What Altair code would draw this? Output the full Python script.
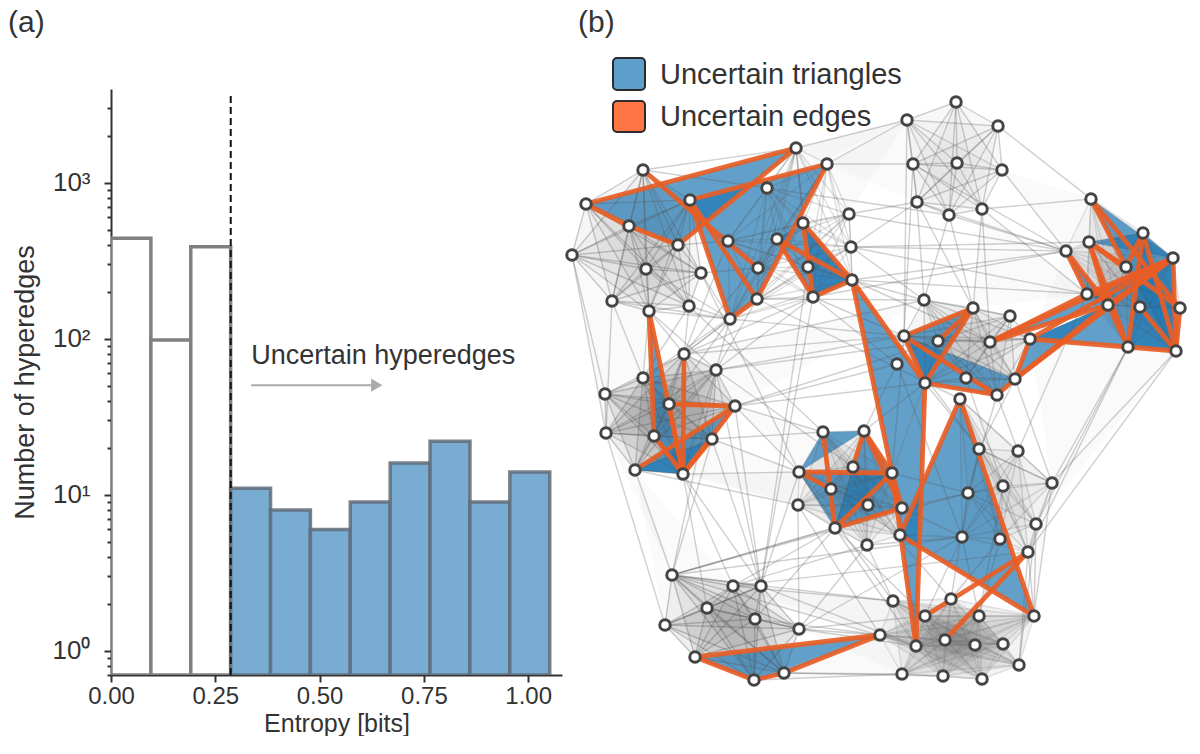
import itertools
import altair as alt
import pandas as pd

FONT = "Liberation Sans"
INK = "#333333"

# ---------- panel (a) ----------
bin_width = 0.0956
counts = [440, 98, 388, 11, 8, 6, 9, 16, 22, 9, 14]
n_certain = 3
threshold = 0.287
tick_major = [1, 10, 100, 1000]
tick_minor = [0.7, 0.8, 0.9, 2, 3, 4, 5, 6, 7, 8, 9, 20, 30, 40, 50, 60, 70, 80, 90,
              200, 300, 400, 500, 600, 700, 800, 900, 2000, 3000]
y_low, y_high = 0.70, 3981
x_high = 1.081

bars = pd.DataFrame({
    "x0": [i * bin_width for i in range(len(counts))],
    "x1": [(i + 1) * bin_width for i in range(len(counts))],
    "n": counts,
    "base": [y_low] * len(counts),
})
ws, hs = 451, 586
xa = alt.X("x0:Q", scale=alt.Scale(domain=[0, x_high], nice=False), axis=alt.Axis(
    values=[0, .25, .5, .75, 1], format=".2f", title="Entropy [bits]", grid=False,
    domainColor=INK, domainWidth=2, tickColor=INK, tickWidth=2, tickSize=7,
    labelFont=FONT, labelFontSize=24, labelColor=INK, labelPadding=2, titleFont=FONT,
    titleFontSize=25, titleColor=INK, titleFontWeight="normal", titlePadding=3, labelFlush=False))
ya = alt.Y("n:Q", scale=alt.Scale(type="log", domain=[y_low, y_high], nice=False), axis=alt.Axis(
    values=tick_major + tick_minor, title="Number of hyperedges", grid=False,
    labelExpr="datum.value==1?'10⁰':datum.value==10?'10¹':datum.value==100?'10²':datum.value==1000?'10³':''",
    domainColor=INK, domainWidth=2, tickColor=INK, tickWidth=2,
    tickSize={"condition": {"test": "datum.value==1||datum.value==10||datum.value==100||datum.value==1000", "value": 7}, "value": 4},
    labelFont=FONT, labelFontSize=26, labelColor=INK, labelPadding=14, titleFont=FONT,
    titleFontSize=27, titleColor=INK, titleFontWeight="normal", titlePadding=13))

base_a = alt.Chart(bars).encode(x=xa, x2="x1:Q", y=ya, y2="base:Q")
bars_w = base_a.transform_filter(f"datum.x0 < {n_certain * bin_width - 0.01}").mark_rect(
    fill="#ffffff", stroke="#808080", strokeWidth=3.5, clip=True)
bars_b = base_a.transform_filter(f"datum.x0 >= {n_certain * bin_width - 0.01}").mark_rect(
    fill="#79acd3", stroke="#5f6c78", strokeOpacity=0.85, strokeWidth=3.5, clip=True)

dash = alt.Chart(pd.DataFrame({"x": [threshold], "a": [y_low], "b": [3600]})).mark_rule(
    color="#111111", strokeDash=[7, 4], strokeWidth=2).encode(x=alt.X("x:Q"), y=alt.Y("a:Q"), y2="b:Q")
ann_df = pd.DataFrame({"x": [0.336], "x2": [0.625], "y": [50.4], "ty": [78], "t": ["Uncertain hyperedges"], "tip": [0.637]})
ann_text = alt.Chart(ann_df).mark_text(font=FONT, fontSize=27, color=INK, align="left", baseline="middle").encode(
    x=alt.X("x:Q"), y=alt.Y("ty:Q"), text="t:N")
ann_line = alt.Chart(ann_df).mark_rule(color="#aaaaaa", strokeWidth=2).encode(x=alt.X("x:Q"), x2="x2:Q", y=alt.Y("y:Q"))
ann_head = alt.Chart(ann_df).mark_point(shape="triangle-right", filled=True, color="#aaaaaa", size=170, opacity=1).encode(
    x=alt.X("tip:Q"), y=alt.Y("y:Q"))
label_a = alt.Chart(pd.DataFrame({"t": ["(a)"]})).mark_text(font=FONT, fontSize=30, color=INK, align="left",
    baseline="top").encode(x=alt.value(-103), y=alt.value(-81), text="t:N")

panel_a = alt.layer(bars_w, bars_b, dash, ann_line, ann_head, ann_text, label_a).properties(width=ws, height=hs)

# ---------- panel (b) ----------
node_x = [643, 586, 629, 572, 646, 612, 649, 689, 701, 678, 690,
          796, 827, 767, 849, 803, 777, 851, 728, 758, 808, 852, 757, 813, 730,
          956, 907, 998, 913, 957, 1002, 917, 949, 982,
          1091, 1089, 1143, 1173, 1066, 1126, 1087, 1108, 1140, 1180, 1128, 1176,
          924, 973, 1010, 904, 938, 990, 1030, 966, 1015, 925, 997, 897,
          684, 716, 643, 605, 669, 735, 606, 654, 712, 635, 683,
          823, 864, 853, 799, 892, 831, 868, 798, 835, 867, 902, 900,
          960, 979, 1018, 1052, 1003, 968, 1036, 962, 1000, 1028,
          672, 733, 761, 707, 755, 665, 799, 695, 784, 754,
          893, 951, 925, 979, 1034, 945, 916, 975, 1003, 1019, 902, 943, 982, 880]
node_y = [170, 204, 226, 255, 269, 301, 311, 306, 273, 245, 200,
          148, 164, 188, 214, 223, 239, 247, 241, 268, 267, 280, 299, 297, 319,
          102, 120, 126, 164, 163, 170, 202, 215, 209,
          199, 242, 233, 258, 251, 267, 294, 305, 307, 308, 347, 351,
          300, 308, 316, 336, 341, 342, 339, 378, 379, 383, 395, 364,
          354, 370, 378, 394, 404, 406, 433, 436, 439, 470, 474,
          432, 431, 467, 472, 473, 489, 505, 505, 528, 545, 508, 535,
          399, 449, 451, 483, 486, 493, 524, 537, 539, 552,
          575, 586, 586, 608, 619, 625, 629, 657, 673, 680,
          601, 599, 616, 616, 616, 640, 646, 645, 644, 665, 674, 676, 679, 635]

# members, fill opacity of the triangles, opacity of the links
clusters = [
    (list(range(0, 11)), 0.008, 0.3), (list(range(11, 25)), 0.0012, 0.2), (list(range(25, 34)), 0.007, 0.27),
    (list(range(34, 46)), 0.004, 0.18), ([46, 47, 48, 49, 50, 51, 52, 53, 54, 55, 56], 0.006, 0.25),
    (list(range(58, 69)), 0.012, 0.3), (list(range(69, 81)), 0.003, 0.22), (list(range(81, 91)), 0.006, 0.2),
    (list(range(91, 101)), 0.012, 0.32), (list(range(101, 115)), 0.0022, 0.19),
]
cross_edges = [
    (3, 61), (5, 64), (3, 64), (67, 91), (64, 96), (59, 91), (66, 91), (93, 20), (93, 23), (63, 72), (68, 72),
    (67, 76), (66, 69), (66, 72), (63, 69), (59, 71), (59, 49), (58, 49), (63, 50), (63, 57), (59, 50), (58, 46),
    (63, 55), (58, 16), (58, 18), (58, 22), (60, 22), (59, 23), (58, 23), (7, 69), (8, 72), (93, 72), (97, 76),
    (91, 77), (92, 78), (92, 77), (97, 78), (95, 77), (91, 79), (97, 114), (97, 107), (99, 111), (100, 111),
    (99, 112), (97, 103), (91, 101), (92, 101), (91, 107), (93, 107), (95, 114), (91, 88), (92, 90), (97, 88),
    (91, 86), (78, 101), (77, 103), (77, 107), (75, 102), (72, 101), (76, 114), (55, 82), (56, 83), (53, 85),
    (54, 84), (56, 86), (54, 82), (57, 88), (44, 84), (45, 90), (44, 87), (45, 84), (40, 83), (44, 90), (31, 46),
    (32, 46), (33, 47), (32, 47), (33, 51), (31, 47), (26, 49), (28, 49), (26, 11), (26, 12), (31, 14), (31, 17),
    (32, 13), (28, 12), (27, 34), (30, 38), (33, 34), (32, 38), (33, 40), (31, 38), (28, 38), (21, 38), (17, 35),
    (17, 38), (14, 38), (17, 40), (21, 40), (23, 38), (21, 46), (23, 49), (24, 49), (22, 46), (21, 51), (17, 46),
    (23, 57), (0, 13), (4, 24), (7, 24), (5, 24), (8, 19), (9, 18), (8, 24), (6, 24), (0, 11), (6, 58), (6, 59),
    (7, 58), (7, 60), (5, 60), (6, 60), (24, 59), (24, 58), (22, 59), (24, 62), (22, 81), (21, 82), (86, 102),
    (88, 103), (89, 104), (88, 104), (90, 105), (87, 105), (85, 104), (89, 102), (84, 105), (87, 110), (90, 110),
    (82, 84), (73, 86), (79, 86), (80, 88), (78, 88), (79, 88), (68, 92), (68, 94), (68, 93), (63, 93), (66, 93),
    (59, 93), (55, 70), (55, 73), (49, 73), (57, 70),
]
light_tris = [
    (26, 11, 12), (12, 26, 31), (13, 26, 11), (26, 12, 14), (3, 5, 64), (5, 6, 60), (61, 5, 60), (64, 67, 91),
    (67, 91, 96), (63, 69, 72), (66, 72, 76), (68, 72, 76), (68, 76, 66), (91, 101, 107), (92, 101, 114),
    (97, 114, 111), (99, 111, 114), (100, 111, 99), (88, 90, 102), (27, 34, 37), (30, 34, 38), (33, 40, 47),
    (38, 40, 52), (44, 45, 84), (45, 84, 87), (44, 52, 84), (60, 66, 68), (58, 63, 46), (91, 92, 67), (90, 84, 105),
]
blue_tris = [
    (1, 11, 9), (10, 12, 22), (10, 24, 22), (15, 21, 23), (16, 21, 23), (15, 16, 21),
    (21, 55, 73), (55, 73, 107), (81, 80, 105),
    (69, 70, 72), (72, 77, 73), (70, 77, 73), (77, 73, 79),
    (47, 49, 55), (49, 54, 56), (49, 55, 56),
    (54, 52, 41), (52, 44, 41), (51, 37, 41), (35, 37, 36), (41, 37, 45), (41, 45, 44), (36, 44, 45),
    (38, 41, 40), (35, 41, 44), (34, 39, 37), (39, 37, 45),
    (6, 65, 68), (63, 67, 68), (66, 67, 68),
    (98, 114, 100), (100, 99, 114),
]
orange_edges = [
    (1, 11), (11, 9), (1, 2), (2, 9), (10, 12), (12, 22), (10, 22), (10, 24), (24, 22), (0, 19),
    (15, 21), (16, 21), (16, 23), (15, 23), (23, 21),
    (21, 55), (21, 73), (55, 107), (73, 107), (81, 80), (81, 105), (80, 105), (90, 103), (90, 106),
    (69, 77), (72, 73), (72, 74), (70, 71), (70, 73), (70, 79), (73, 77), (77, 79), (73, 79),
    (49, 47), (49, 55), (47, 55), (49, 56), (55, 56), (56, 54), (50, 47),
    (54, 52), (54, 41), (52, 44), (51, 41), (51, 37), (51, 40), (52, 37), (54, 37),
    (34, 39), (34, 43), (35, 41), (35, 44), (38, 41), (38, 40), (36, 44), (36, 45), (37, 45), (37, 40), (37, 41),
    (43, 45), (43, 35), (41, 44), (42, 45), (44, 45), (36, 39), (35, 39),
    (6, 65), (6, 68), (58, 68), (62, 63), (63, 67), (63, 68), (65, 68), (66, 68), (62, 68),
    (98, 114), (98, 100), (100, 99), (99, 114),
]
legend_names = ["Uncertain triangles", "Uncertain edges"]
legend_fill = ["#5e9ecb", "#ff7545"]
legend_y0 = [58, 101]
legend_y1 = [90, 132]
legend_ty = [75, 117]

wb, hb = 617, 586
sx = alt.Scale(domain=[570, 1187], nice=False)
sy = alt.Scale(domain=[89, 675], nice=False, reverse=True)
X = lambda f: alt.X(f, scale=sx, axis=None)
Y = lambda f: alt.Y(f, scale=sy, axis=None)


def tri_frame(tris):
    rows = []
    for k, t in enumerate(tris):
        for o, n in enumerate(t):
            rows.append({"k": k, "o": o, "x": node_x[n], "y": node_y[n]})
    return pd.DataFrame(rows)


def edge_frame(edges):
    return pd.DataFrame([{"x": node_x[a], "y": node_y[a], "x2": node_x[b], "y2": node_y[b]} for a, b in edges])


def tri_layer(tris, **kw):
    return alt.Chart(tri_frame(tris)).mark_line(filled=True, interpolate="linear-closed", **kw).encode(
        x=X("x:Q"), y=Y("y:Q"), detail="k:N", order="o:Q")


def edge_layer(edges, **kw):
    return alt.Chart(edge_frame(edges)).mark_rule(**kw).encode(x=X("x:Q"), y=Y("y:Q"), x2="x2:Q", y2="y2:Q")


layers = [tri_layer(light_tris, color="#555555", fillOpacity=0.03, strokeWidth=0)]
for members, a, _ in clusters:
    layers.append(tri_layer(list(itertools.combinations(members, 3)), color="#444444", fillOpacity=a, strokeWidth=0))
layers.append(tri_layer(blue_tris, color="#1f77b4", fillOpacity=0.7, strokeWidth=0))
layers.append(edge_layer(cross_edges, color="#555555", opacity=0.28, strokeWidth=1.4))
for members, _, o in clusters:
    layers.append(edge_layer(list(itertools.combinations(members, 2)), color="#555555", opacity=o, strokeWidth=1.4))
layers.append(edge_layer(orange_edges, color="#e85d25", opacity=0.92, strokeWidth=4.8))
layers.append(alt.Chart(pd.DataFrame({"x": node_x, "y": node_y})).mark_point(
    filled=True, fill="#ffffff", stroke="#444444", strokeWidth=3, size=110, opacity=1).encode(x=X("x:Q"), y=Y("y:Q")))

leg = pd.DataFrame({"x0": [613, 613], "x1": [645, 645], "y0": legend_y0, "y1": legend_y1, "f": legend_fill,
                    "tx": [660, 660], "ty": legend_ty, "t": legend_names})
layers.append(alt.Chart(leg).mark_rect(stroke="#2b2b2b", strokeWidth=2, cornerRadius=4).encode(
    x=X("x0:Q"), x2="x1:Q", y=Y("y0:Q"), y2="y1:Q", fill=alt.Fill("f:N", scale=None)))
layers.append(alt.Chart(leg).mark_text(font=FONT, fontSize=29, color=INK, align="left", baseline="middle").encode(
    x=X("tx:Q"), y=Y("ty:Q"), text="t:N"))
layers.append(alt.Chart(pd.DataFrame({"x": [578], "y": [8], "t": ["(b)"]})).mark_text(
    font=FONT, fontSize=30, color=INK, align="left", baseline="top").encode(x=X("x:Q"), y=Y("y:Q"), text="t:N"))

panel_b = alt.layer(*layers).properties(width=wb, height=hb)

chart = alt.hconcat(panel_a, panel_b, spacing=-2).properties(padding=0).configure_view(stroke=None)
chart.save("out.html", embed_options={"renderer": "svg", "actions": False})
